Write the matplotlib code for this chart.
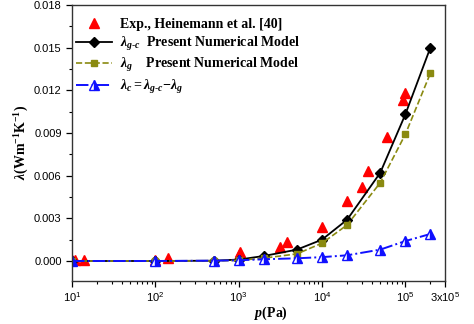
import matplotlib.pyplot as plt
from matplotlib.ticker import FixedLocator, MultipleLocator, FormatStrFormatter, LogLocator, NullFormatter

plt.rcParams['font.family'] = ['Liberation Serif', 'DejaVu Serif']
plt.rcParams['mathtext.fontset'] = 'custom'
plt.rcParams['mathtext.rm'] = 'Liberation Sans'
plt.rcParams['mathtext.sf'] = 'Liberation Sans'
plt.rcParams['mathtext.it'] = 'Liberation Serif:italic:bold'
plt.rcParams['mathtext.bf'] = 'Liberation Serif:bold'

# Experimental data (Heinemann et al.)
p_exp = [10, 11, 14, 100, 140, 1000, 1050, 3150, 3800, 10000, 20000, 30000, 36000, 60000, 95000, 100000]
lam_exp = [0.00005, 0.0001, 0.00005, 0.0001, 0.0002, 0.00045, 0.0006, 0.0010, 0.0013, 0.0024,
           0.0042, 0.0052, 0.0063, 0.0087, 0.0113, 0.0118]

# Numerical model
p_model = [10, 100, 500, 1000, 2000, 5000, 10000, 20000, 50000, 100000, 200000]
lam_gc = [0.0, 0.0, 0.00002, 0.0001, 0.00035, 0.0008, 0.0015, 0.0029, 0.0062, 0.0103, 0.0150]
lam_g = [0.0, 0.0, 0.0, 0.00005, 0.0002, 0.0005, 0.00125, 0.00253, 0.0055, 0.0089, 0.0132]
lam_c = [0.0, 0.0, 0.00002, 0.00005, 0.00012, 0.00019, 0.00027, 0.0004, 0.0008, 0.0014, 0.0019]

x_ticks = [10, 100, 1000, 10000, 100000, 300000]
x_tick_labels = [r'$10^{1}$', r'$10^{2}$', r'$10^{3}$', r'$10^{4}$', r'$10^{5}$', r'$3\mathrm{x}10^{5}$']

fig = plt.figure(figsize=(4.74, 3.24), dpi=100)
ax = fig.add_axes([0.152, 0.133, 0.787, 0.852])

ax.plot(p_exp, lam_exp, linestyle='none', marker='^', markersize=7.5, color='#ff0000',
        label='Exp., Heinemann et al. [40]')
ax.plot(p_model, lam_gc, '-', color='black', lw=1.3, marker='D', markersize=5.5,
        label=r'$\lambda_{g\mathbf{\text{-}}c}$  Present Numerical Model')
ax.plot(p_model, lam_g, '--', color='#8a8a10', lw=1.2, marker='s', markersize=5,
        label=r'$\lambda_{g}$    Present Numerical Model')
ax.plot(p_model, lam_c, '-.', color='#1010ff', lw=1.4, marker='^', markersize=6.5,
        fillstyle='right', markerfacecoloralt='white', markeredgewidth=1.0,
        label=r'$\lambda_{c}\mathbf{=}\lambda_{g\mathbf{\text{-}}c}\mathbf{-}\lambda_{g}$')

ax.set_xscale('log')
ax.set_xlim(10, 300000)
ax.set_ylim(-0.0014, 0.018)

ax.xaxis.set_major_locator(FixedLocator(x_ticks))
ax.set_xticklabels(x_tick_labels)
ax.xaxis.set_minor_locator(LogLocator(base=10, subs=range(2, 10), numticks=20))
ax.xaxis.set_minor_formatter(NullFormatter())

ax.yaxis.set_major_locator(MultipleLocator(0.003))
ax.yaxis.set_minor_locator(MultipleLocator(0.0015))
ax.yaxis.set_major_formatter(FormatStrFormatter('%.3f'))

ax.tick_params(which='major', direction='out', length=4, width=0.9, labelsize=8)
ax.tick_params(which='minor', direction='out', length=2.2, width=0.8)
for lbl in ax.get_xticklabels() + ax.get_yticklabels():
    lbl.set_fontfamily('Liberation Sans')
for s in ax.spines.values():
    s.set_color('#333333')
    s.set_linewidth(1.0)

ax.set_xlabel(r'$p$(Pa)', fontsize=10, fontweight='bold')
ax.xaxis.set_label_coords(0.532, -0.085)
ax.set_ylabel(r'$\lambda$(Wm$^{\mathbf{-1}}$K$^{\mathbf{-1}}$)', fontsize=10, fontweight='bold', labelpad=2)

ax.legend(loc='upper left', bbox_to_anchor=(0.0, 0.967), frameon=False,
          prop={'weight': 'bold', 'size': 10},
          handlelength=2.6, handletextpad=0.55, labelspacing=0.25, borderaxespad=0.0,
          borderpad=0.3)

fig.savefig('out.png', dpi=100)
